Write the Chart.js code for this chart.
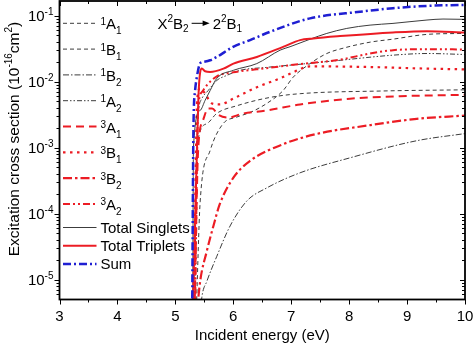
<!DOCTYPE html>
<html>
<head>
<meta charset="utf-8">
<script src="https://cdn.jsdelivr.net/npm/chart.js@4.4.1/dist/chart.umd.min.js"></script>
<style>
  html, body { margin: 0; padding: 0; background: #fff; }
  #wrap { width: 474px; height: 348px; position: relative; }
</style>
</head>
<body>
<div id="wrap"><canvas id="c" width="474" height="348"></canvas></div>
<script>
// Axis ticks
const energyTicks = [3, 4, 5, 6, 7, 8, 9, 10];
const decadeTicks = [1e-5, 1e-4, 1e-3, 1e-2, 1e-1];
const decadeExponents = ['-5', '-4', '-3', '-2', '-1'];

// Singlet states: incident energy (eV) and cross section (1e-16 cm^2)
const energy1A1 = [5.36, 5.428, 5.600, 5.824, 6.061, 6.290, 6.578, 6.860, 7.032, 7.325, 7.614, 7.895, 8.361, 8.757, 9.344, 10.0];
const sigma1A1  = [3e-6, 1.5e-4, 9e-4, 2.3e-3, 2.9e-3, 3.4e-3, 4.66e-3, 7.3e-3, 0.0116, 0.0187, 0.0266, 0.032, 0.0395, 0.0439, 0.0518, 0.0536];

const energy1B1 = [5.31, 5.371, 5.543, 5.716, 6.061, 6.635, 7.153, 8.585, 10.0];
const sigma1B1  = [3e-6, 1e-3, 2.3e-3, 3.3e-3, 4.3e-3, 5.75e-3, 6.55e-3, 7.2e-3, 7.5e-3];

const energy1B2 = [5.43, 5.457, 5.543, 5.716, 5.945, 6.233, 6.578, 7.153, 8.016, 9.166, 10.0];
const sigma1B2  = [3e-6, 5.4e-6, 9.4e-6, 2.26e-5, 6.5e-5, 1.55e-4, 2.45e-4, 4.15e-4, 7.0e-4, 1.27e-3, 1.63e-3];

const energy1A2 = [5.33, 5.376, 5.457, 5.566, 5.716, 5.888, 6.118, 6.578, 7.268, 7.843, 8.757, 9.344, 10.0];
const sigma1A2  = [3e-6, 1.8e-3, 5.5e-3, 7.3e-3, 0.0104, 0.0124, 0.0148, 0.0164, 0.0187, 0.021, 0.0251, 0.0266, 0.0257];

// Triplet states
const energy3A1 = [5.33, 5.393, 5.479, 5.566, 5.635, 5.738, 5.911, 6.169, 6.578, 7.153, 8.016, 8.878, 10.0];
const sigma3A1  = [3e-6, 9e-4, 2.6e-3, 3.9e-3, 3.9e-3, 3.16e-3, 2.85e-3, 3.28e-3, 3.65e-3, 4.5e-3, 5.5e-3, 6.0e-3, 6.3e-3];

const energy3B1 = [5.32, 5.376, 5.428, 5.497, 5.635, 5.768, 5.997, 6.406, 6.808, 7.032, 7.325, 8.361, 9.344, 10.0];
const sigma3B1  = [3e-6, 5.2e-3, 7.9e-3, 6.9e-3, 4.65e-3, 4.5e-3, 5.5e-3, 8.2e-3, 0.0112, 0.0138, 0.017, 0.0166, 0.0157, 0.0153];

const energy3B2 = [5.37, 5.428, 5.543, 5.657, 5.768, 6.002, 6.290, 6.865, 7.441, 8.304, 9.166, 10.0];
const sigma3B2  = [3e-6, 9.4e-6, 2.7e-5, 6.5e-5, 1.4e-4, 3.5e-4, 6.3e-4, 1.13e-3, 1.61e-3, 2.15e-3, 2.72e-3, 3.06e-3];

const energy3A2 = [5.34, 5.393, 5.457, 5.543, 5.716, 5.997, 6.406, 6.980, 7.843, 8.361, 8.757, 9.344, 10.0];
const sigma3A2  = [3e-6, 3.65e-3, 6.9e-3, 8.8e-3, 0.012, 0.0138, 0.0153, 0.0177, 0.0215, 0.0266, 0.0299, 0.0309, 0.0306];

// Totals
const energySinglets = [5.30, 5.312, 5.428, 5.514, 5.600, 5.716, 6.002, 6.406, 6.808, 6.980, 7.325, 7.614, 7.959, 8.361, 8.757, 9.344, 9.620, 10.0];
const sigmaSinglets  = [3e-6, 1.0e-3, 3.65e-3, 5.2e-3, 7.3e-3, 0.0112, 0.0148, 0.0187, 0.0299, 0.0337, 0.0438, 0.0536, 0.0638, 0.0716, 0.076, 0.0855, 0.0885, 0.0875];

const energyTriplets = [5.30, 5.398, 5.428, 5.457, 5.514, 5.600, 5.830, 6.002, 6.406, 6.860, 7.153, 7.382, 7.843, 8.757, 9.344, 10.0];
const sigmaTriplets  = [3e-6, 5.8e-3, 0.0138, 0.0157, 0.0143, 0.014, 0.0157, 0.0187, 0.0236, 0.0335, 0.0424, 0.045, 0.0488, 0.0555, 0.058, 0.0555];

const energySum = [5.29, 5.312, 5.341, 5.371, 5.428, 5.479, 5.600, 5.716, 5.997, 6.290, 6.635, 7.325, 8.188, 8.757, 9.344, 10.0];
const sigmaSum  = [3e-6, 1.9e-3, 7.3e-3, 0.0117, 0.0189, 0.0198, 0.021, 0.0236, 0.0335, 0.0424, 0.0567, 0.0906, 0.114, 0.129, 0.140, 0.145];

// Legend labels: [superscript, letter, subscript]
const stateLabels = [['1','A','1'], ['1','B','1'], ['1','B','2'], ['1','A','2'],
                     ['3','A','1'], ['3','B','1'], ['3','B','2'], ['3','A','2']];
const totalLabels = ['Total Singlets', 'Total Triplets', 'Sum'];

const FONT = '"Liberation Sans", Arial, Helvetica, sans-serif';
const RED = '#ec1c24';
const GRAY = '#3c3c3c';
const BLUE = '#1f1fd2';

const pts = (xs, ys) => xs.map((x, i) => ({ x: x, y: ys[i] }));

function line(label, xs, ys, color, width, dash, order) {
  return {
    label: label, data: pts(xs, ys), borderColor: color, borderWidth: width,
    borderDash: dash, pointRadius: 0, fill: false, order: order,
    cubicInterpolationMode: 'monotone', borderCapStyle: 'butt'
  };
}

// Order of the legend entries (states, then totals)
const datasets = [
  line('1A1', energy1A1, sigma1A1, GRAY, 1, [4, 3], 10),
  line('1B1', energy1B1, sigma1B1, GRAY, 1, [4, 3], 10),
  line('1B2', energy1B2, sigma1B2, GRAY, 1, [6, 2, 1.5, 2], 10),
  line('1A2', energy1A2, sigma1A2, GRAY, 1, [5, 2, 1.5, 2, 1.5, 2], 10),
  line('3A1', energy3A1, sigma3A1, RED, 2, [8, 5], 5),
  line('3B1', energy3B1, sigma3B1, RED, 2.2, [2.5, 4.5], 5),
  line('3B2', energy3B2, sigma3B2, RED, 2.2, [9, 3, 2.5, 3], 5),
  line('3A2', energy3A2, sigma3A2, RED, 2, [7, 3, 2, 3, 2, 3], 5),
  line('Total Singlets', energySinglets, sigmaSinglets, GRAY, 1, [], 3),
  line('Total Triplets', energyTriplets, sigmaTriplets, RED, 2, [], 2),
  line('Sum', energySum, sigmaSum, BLUE, 2.5, [8, 3, 2, 3], 1)
];

// Draws a label made of a main part with optional raised / lowered small parts
function drawParts(ctx, x, y, parts) {
  for (const p of parts) {
    ctx.font = (p.size || 15) + 'px ' + FONT;
    ctx.fillText(p.t, x, y + (p.dy || 0));
    x += ctx.measureText(p.t).width;
  }
  return x;
}

const decorations = {
  id: 'decorations',
  afterDatasetsDraw(chart) {
    const { ctx, chartArea: a, scales: { x, y } } = chart;
    ctx.save();
    ctx.strokeStyle = '#000';
    ctx.fillStyle = '#000';
    ctx.lineWidth = 1;
    const seg = (x1, y1, x2, y2) => { ctx.beginPath(); ctx.moveTo(x1, y1); ctx.lineTo(x2, y2); ctx.stroke(); };

    // energy axis ticks: bottom outward, top inward
    for (let i = 0; i < energyTicks.length; i++) {
      const e = energyTicks[i];
      const px = Math.round(x.getPixelForValue(e)) + 0.5;
      seg(px, a.bottom, px, a.bottom + 5);
      seg(px, a.top, px, a.top + 5);
      if (i < energyTicks.length - 1) {
        const pm = Math.round(x.getPixelForValue((e + energyTicks[i + 1]) / 2)) + 0.5;
        seg(pm, a.bottom, pm, a.bottom + 3);
        seg(pm, a.top, pm, a.top + 3);
      }
    }
    // cross-section axis ticks: left outward, right inward
    for (let d = -6; d <= -1; d++) {
      for (let m = 1; m <= 9; m++) {
        const v = m * Math.pow(10, d);
        if (v < y.min || v > y.max) continue;
        const py = Math.round(y.getPixelForValue(v)) + 0.5;
        const len = m === 1 ? 5 : 3;
        seg(a.left - len, py, a.left, py);
        seg(a.right - len, py, a.right, py);
      }
    }
    // frame
    ctx.lineWidth = 1.8;
    ctx.strokeRect(a.left, a.top, a.right - a.left, a.bottom - a.top);

    // decade labels
    ctx.textBaseline = 'alphabetic';
    decadeTicks.forEach((v, i) => {
      const py = y.getPixelForValue(v);
      ctx.font = '15px ' + FONT;
      const w1 = ctx.measureText('10').width;
      ctx.font = '10px ' + FONT;
      const w2 = ctx.measureText(decadeExponents[i]).width;
      drawParts(ctx, a.left - 6 - w1 - w2, py + 5.5, [
        { t: '10' }, { t: decadeExponents[i], size: 10, dy: -6.5 }
      ]);
    });

    // y axis title
    ctx.save();
    ctx.translate(18.5, 139);
    ctx.rotate(-Math.PI / 2);
    const titleParts = [
      { t: 'Excitation cross section (10', size: 15.5 }, { t: '-16', size: 10, dy: -6.5 },
      { t: 'cm', size: 15.5 }, { t: '2', size: 10, dy: -6.5 }, { t: ')', size: 15.5 }
    ];
    let tw = 0;
    titleParts.forEach(p => { ctx.font = (p.size || 15) + 'px ' + FONT; tw += ctx.measureText(p.t).width; });
    drawParts(ctx, -tw / 2, 0, titleParts);
    ctx.restore();

    // legend
    const lx0 = a.left + 3.5, lx1 = a.left + 37, tx = a.left + 41;
    const sample = (ds, ly) => {
      ctx.save();
      ctx.strokeStyle = ds.borderColor;
      ctx.lineWidth = ds.borderWidth;
      ctx.setLineDash(ds.borderDash);
      seg(lx0, ly, lx1, ly);
      ctx.restore();
    };
    stateLabels.forEach((lab, i) => {
      const ly = a.top + 22.3 + i * 25.8;
      sample(datasets[i], ly);
      drawParts(ctx, tx, ly, [
        { t: lab[0], size: 10, dy: 1.5 }, { t: lab[1], size: 15, dy: 6 }, { t: lab[2], size: 10, dy: 11 }
      ]);
    });
    totalLabels.forEach((lab, j) => {
      const ly = a.top + 226.5 + j * 18.2;
      sample(datasets[8 + j], ly);
      ctx.font = '15px ' + FONT;
      ctx.fillText(lab, tx, ly + 5.5);
    });

    // transition annotation  X2B2 -> 22B1
    const ay = a.top + 22.3;
    let ax = drawParts(ctx, a.left + 98, ay + 5.5, [
      { t: 'X' }, { t: '2', size: 10, dy: -6.5 }, { t: 'B' }, { t: '2', size: 10, dy: 3.5 }
    ]);
    const ar0 = ax + 3, ar1 = ax + 21;
    ctx.lineWidth = 1;
    seg(ar0, ay, ar1 - 5, ay);
    ctx.beginPath();
    ctx.moveTo(ar1, ay); ctx.lineTo(ar1 - 7, ay - 2.8); ctx.lineTo(ar1 - 7, ay + 2.8); ctx.closePath();
    ctx.fill();
    drawParts(ctx, ar1 + 3, ay + 5.5, [
      { t: '2' }, { t: '2', size: 10, dy: -6.5 }, { t: 'B' }, { t: '1', size: 10, dy: 3.5 }
    ]);
    ctx.restore();
  }
};

new Chart(document.getElementById('c'), {
  type: 'line',
  data: { datasets: datasets },
  plugins: [decorations],
  options: {
    responsive: false,
    animation: false,
    devicePixelRatio: 1,
    layout: { padding: { left: 59.5, right: 9, top: 1, bottom: 0 } },
    plugins: { legend: { display: false }, tooltip: { enabled: false } },
    scales: {
      x: {
        type: 'linear', min: 3, max: 10,
        grid: { display: true, drawOnChartArea: false, drawTicks: true, tickLength: 8, tickColor: 'rgba(0,0,0,0)' },
        border: { display: false },
        ticks: { stepSize: 1, maxRotation: 0, autoSkip: false, padding: 0, color: '#000', font: { family: FONT, size: 15 } },
        title: { display: true, text: 'Incident energy (eV)', color: '#000', padding: { top: 0, bottom: 3 }, font: { family: FONT, size: 15 } },
        afterFit: s => { s.height = 48.5; }
      },
      y: {
        type: 'logarithmic', min: 5e-6, max: 0.166,
        display: false
      }
    }
  }
});
</script>
</body>
</html>
